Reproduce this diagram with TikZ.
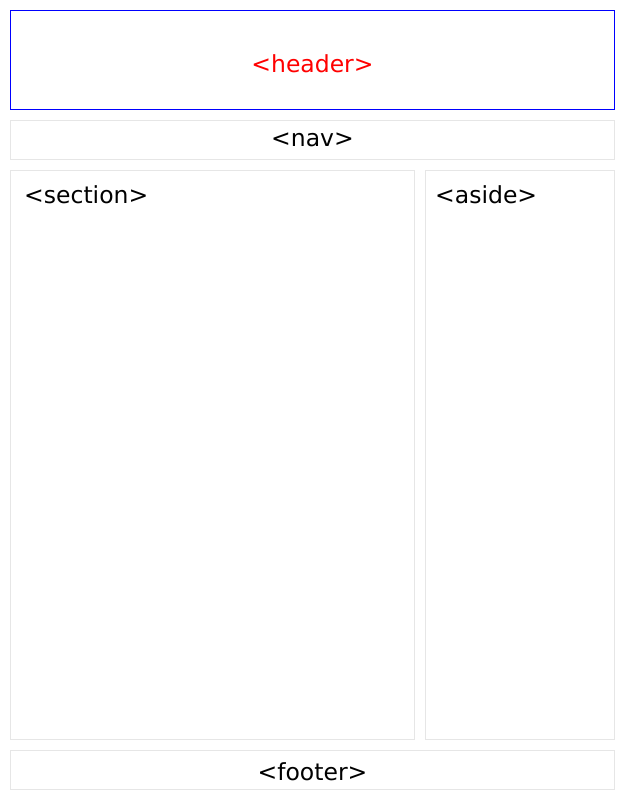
\documentclass[tikz,border=0pt]{standalone}
\usepackage{fontspec}
\setmainfont{DejaVu Sans}
\definecolor{boxgray}{HTML}{E6E6E6}
\begin{document}
\begin{tikzpicture}[x=1pt,y=-1pt,
  graybox/.style={draw=boxgray,line width=1.2pt},
  lbl/.style={inner sep=0pt,anchor=base,font=\fontsize{23.5}{28}\selectfont},
  lbll/.style={lbl,anchor=base west}]
\useasboundingbox (0,0) rectangle (625,800);
\draw[draw=blue,line width=1pt] (10.5,10.5) rectangle (614.5,109.5);
\coordinate (hdr) at (312.5,73);
\node[lbl,text=red] (header) at (hdr) {<header>};
\draw[graybox] (10.5,120.5) rectangle (614.5,159.5);
\node[lbl] (nav) at (312.5,146) {<nav>};
\draw[graybox] (10.5,170.5) rectangle (414.5,739.5);
\node[lbll] (section) at (24,203) {<section>};
\draw[graybox] (425.5,170.5) rectangle (614.5,739.5);
\node[lbll] (aside) at (435,203) {<aside>};
\draw[graybox] (10.5,750.5) rectangle (614.5,789.5);
\node[lbl] (footer) at (312.5,780) {<footer>};
\end{tikzpicture}
\end{document}
